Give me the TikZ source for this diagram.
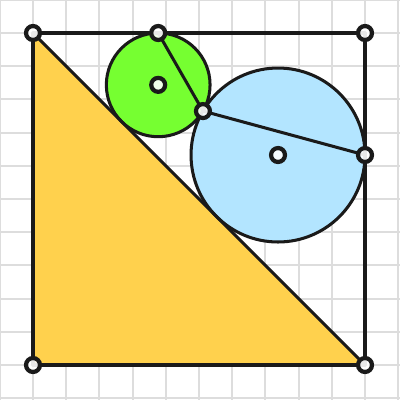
\documentclass[tikz,border=0pt]{standalone}
\usetikzlibrary{calc}
\definecolor{ink}{HTML}{1A1A1A}
\definecolor{gridc}{HTML}{DDDDDD}
\definecolor{tri}{HTML}{FFD14D}
\definecolor{grn}{HTML}{76FF31}
\definecolor{blu}{HTML}{B3E5FF}
\tikzset{
  edge/.style={draw=ink, line width=2.6pt, line join=round, line cap=round},
  pt/.style={circle, draw=ink, line width=3.6pt, fill=white, fill opacity=0.9, draw opacity=1, inner sep=0pt, minimum size=0.42cm},
  gridline/.style={draw=gridc, line width=1.6pt}
}
\begin{document}
\begin{tikzpicture}
\useasboundingbox (-0.994,-1.054) rectangle (11.054,10.994);
\clip (-0.994,-1.054) rectangle (11.054,10.994);
\foreach \i in {-1,...,11} {
  \draw[gridline] (\i,-1.2) -- (\i,11.2);
  \draw[gridline] (-1.2,\i) -- (11.2,\i);
}
\coordinate (A) at (0,10);
\coordinate (B) at (0,0);
\coordinate (C) at (10,0);
\coordinate (D) at (10,10);
\coordinate (C1) at (3.771,8.438);
\coordinate (C2) at (7.38,6.325);
\coordinate (P1) at (3.771,10);
\coordinate (P2) at (10,6.325);
\coordinate (T) at ($(C1)!0.37351!(C2)$);
\fill[tri] (A) -- (B) -- (C) -- cycle;
\draw[edge, fill=grn] (C1) circle (1.562);
\draw[edge, fill=blu] (C2) circle (2.62);
\draw[edge] (A) -- (B) -- (C) -- (D) -- cycle;
\draw[edge] (A) -- (C);
\draw[edge] (P1) -- (T) -- (P2);
\foreach \p in {A,B,C,D,C1,C2,P1,P2,T} {
  \node[pt] (n\p) at (\p) {};
}
\end{tikzpicture}
\end{document}
